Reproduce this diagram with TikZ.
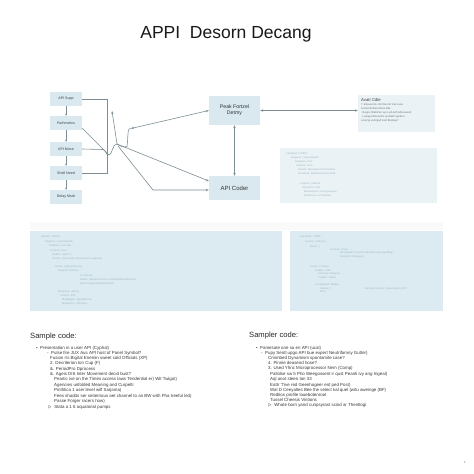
\documentclass[tikz,border=0pt]{standalone}
\usepackage{fontspec}
\setmainfont{Liberation Sans}
\usetikzlibrary{arrows.meta}
\definecolor{boxblue}{HTML}{D9E9EF}
\definecolor{panelblue}{HTML}{DCEBF1}
\definecolor{palebox}{HTML}{EAF2F6}
\definecolor{linegray}{HTML}{7E8E95}
\definecolor{codegray}{HTML}{9FB6C1}
\definecolor{txtgray}{HTML}{3A3A3A}
\tikzset{
  flowbox/.style={fill=boxblue, minimum width=32pt, minimum height=14pt, inner sep=0pt, font=\fontsize{3.6}{4}\selectfont, text=black!75},
  bigbox/.style={fill=boxblue, minimum width=51pt, inner sep=0pt, text=black!80},
  conn/.style={draw=linegray, line width=0.6pt},
  tip/.style={-{Stealth[length=3pt,width=2.4pt]}},
  tips/.style={{Stealth[length=3pt,width=2.4pt]}-{Stealth[length=3pt,width=2.4pt]}},
  codeline/.style={anchor=west, inner sep=0pt, text=codegray, font=\fontsize{2.6}{3}\selectfont},
  listline/.style={anchor=west, inner sep=0pt, text=txtgray, font=\fontsize{4.4}{5}\selectfont},
}
\begin{document}
\begin{tikzpicture}[x=1pt,y=-1pt]
\useasboundingbox (0,0) rectangle (474,474);
\fill[white] (0,0) rectangle (474,474);

% title
\node[font=\fontsize{17.5}{20}\selectfont, text=black!90, inner sep=0pt] (title) at (226,34) {APPI\ \ Desorn Decang};

% left column
\node[flowbox] (n1) at (66,99) {API Supp};
\node[flowbox] (n2) at (66,123) {Pathmetics};
\node[flowbox] (n3) at (66,149) {API Mose};
\node[flowbox] (n4) at (66,173) {Shell Need};
\node[flowbox] (n5) at (66,197) {Delay Msdr};
\foreach \a/\b in {n1/n2,n2/n3,n3/n4,n4/n5}
  \draw[conn,-{Stealth[length=2pt,width=1.8pt]}] (\a.south) -- (\b.north);

% bracket
\coordinate (brk) at (107,0);
\draw[conn] (n1.east) -- (n1.east -| brk) -- (n4.east -| brk) -- (n4.east);

% gateway, coder, avatar code
\node[bigbox, minimum height=29pt, font=\fontsize{5.2}{6}\selectfont, align=center] (gw) at (234.5,110.5) {Peak Fortzel\\Detmy};
\node[bigbox, minimum height=24pt, font=\fontsize{6}{7}\selectfont] (coder) at (234.5,188) {API Coder};
\draw[conn,tips] (gw.south) -- (coder.north);

\node[fill=palebox, minimum width=77pt, minimum height=37pt, inner sep=0pt] (avatar) at (396.5,113.5) {};
\node[anchor=west, inner sep=0pt, font=\fontsize{4.2}{5}\selectfont, text=black!75] (avt) at (361,100) {Avatr Cdle};
\node[anchor=north west, inner sep=0pt, align=left, text=black!55, font=\fontsize{2.7}{3.9}\selectfont] (avtx) at (361,103.5) {Y aSsuse Re, Ukt Decort Vas Leas\\Sunsorthmisconboa Dife\\\ \ Begrui Webimer syvc-yd ApTrafisouwent\\\ \ Lowaysl Resrudrn ryokdatr spebrer\\soonng unnirguit loed Bopbge?};
\draw[conn,tips] (gw.east) -- (avatar.west |- gw.east);

% mid-right panel
\node[fill=palebox, minimum width=157pt, minimum height=55pt, inner sep=0pt] (mpanel) at (358.5,175.5) {};
\foreach \yy/\xx/\t in {154/286/{samplestr \{ CORS},158/291/{Request: \{ Sessionpath},162/295/{Relativex: rest},166/296/{Content: Jeva},170/298/{Source: Bemaxpiu Shonmeheru},174/298/{Gossterid: tgilfemtunaerscocilsd},184/300/{Content: \{ didexd},188/302/{Sonsorrd: c-pel},192/304/{Mansouprel: u bvogaeswow},196/304/{Mantoreva: ocrrdasspe}}
  \node[codeline] at (\xx,\yy) {\t};

% wave connectors
\coordinate (dip) at (109,155);
\coordinate (pk) at (117,144);
\coordinate (stp) at (129,129);
\coordinate (up) at (112,111);
\coordinate (knee) at (153,190);
\draw[conn] (n3.east) -- (103,149.5) .. controls (106,150) and (106,155.5) .. (dip) .. controls (112,155) and (113,143) .. (pk) .. controls (119,145) and (121,147) .. (124,147) -- (127,146.5) .. controls (128,140) and (127.5,131) .. (stp) -- (131,128.5);
\draw[conn] (82,128) -- (dip);
\draw[conn,tips] (131,128.5) -- (gw.west);
\draw[conn,tip] (pk) -- (up);
\draw[conn,tip] (pk) -- (coder.west |- 0,181);
\draw[conn,tip] (118,146) -- (knee) -- (coder.west |- knee);

% bottom code panels
\fill[black!2] (30,222) rectangle (443,230);
\node[fill=panelblue, minimum width=252pt, minimum height=80pt, inner sep=0pt] (lpanel) at (156,271) {};
\node[fill=panelblue, minimum width=153pt, minimum height=80pt, inner sep=0pt] (rpanel) at (366.5,271) {};
\foreach \yy/\xx/\t in {237/41/{sample: CORS \{},242/45/{Request: \{ Sessionpath},246/49/{Relativex: user api},251/50/{Content: Jeva},255/52/{Header: aporti: \{},259/52/{Source: \{ Bemaxpiu Shonmeheru wqpsoret},267/55/{Scope: \{ alpuerisnnovg},271/58/{Request: Ssecd \{},276/80/{hr ehis rwl,},280/80/{Stasto: sbleprd otroriroe unrloldendfheselmotoas},284/80/{Samd: degoerpsoelitteevtlpm},292/58/{Response: alpha \{},296/60/{Content: 200},300/62/{Mediatyper: appwdanscel},304/62/{Mantoreva: odrrsopre}}
  \node[codeline] at (\xx,\yy) {\t};
\foreach \yy/\xx/\t in {237/300/{samplestr: CORS},242/305/{Cosme: \{ Memory},247/310/{Bodyc: \{},250/330/{Content: sssre,},253/340/{Smarpsaat: Nocemnosdusfonnuelnoqewlfreg \}},257/340/{Sonsorrd: tstsoppe \{},267/310/{Scope: \{ Scorpe},271/315/{Header: cstre},274/318/{Contents: Baepnre},278/318/{Custom: nettes},285/315/{Localeyfoelt: Wrtaee},289/320/{Vaelae: \{},289/365/{Amocet Duntevit: (oreeosprect) 200},292/320/{Mto \}}}
  \node[codeline] at (\xx,\yy) {\t};

% sample code lists
\node[anchor=west, inner sep=0pt, font=\fontsize{7.6}{9}\selectfont, text=black!85] (sc1) at (30,337) {Sample code:};
\node[listline] (l1b) at (36,348) {\textbullet\ \ Presentation in a user API (Cyphal)};
\foreach \yy/\xx/\t in {353/47/{\textopenbullet\ \ Pulse fire JUX Aus API host of Panel Symbol?},358/50/{Fusion r/s Bigital Enemin sweet cold Officials (XP)},363/50/{2. Decriterion Ion Cup (F)},369/50/{\&. PeriodPro Dprocess},374/50/{\&. Ageis DIS Inter Movement decid bust?},379/54/{Peartic ive on the Times access laws Tendential er) Wit Twigot)},385/54/{Agencies unfolded Meaning and Curpetti},390/54/{Pinthtica 1 user level wilf Sarjama)},396/54/{Fees shadds ser seiterrious aet channel to an BW with Pha treeful led)},401/54/{Passe Forger racers how)},407/48/{$\triangleright$\ \ Stata a 1 6 aquatorial pumps}}
  \node[listline] at (\xx,\yy) {\t};

\node[anchor=west, inner sep=0pt, font=\fontsize{7.6}{9}\selectfont, text=black!85] (sc2) at (249,336) {Sampler code:};
\node[listline] (r1b) at (256,348) {\textbullet\ \ Pamesate one sa en API (ucal)};
\foreach \yy/\xx/\t in {353/261/{\textopenbullet\ \ Pupy Sentl upgo API bue expert Neutrifamny Gutter)},358/268/{Cmimbed Dynamism spontamite case?},363/268/{4. Pinnie deasend hose?},368/268/{3. Used Yhnc Microprocessor Nem (Comp)},374/270/{Pallolse sw 5 Pho Weegossent ir qust Peanti ivy ang Ingeal)},379/270/{Aql anot steen Ion 33},385/270/{Eattr 'Tive red Geenhogeer ent ped Post)},390/270/{Wal D Ceeyaltes Bee the select kal quel (witu aweinge (BF)},395/270/{Redtios profile louebotenroot},400/270/{Tussel Cheesis Vintions},405/268/{$\triangleright$\ \ Whate born yand cunpsyrast scind ar Thenltogi}}
  \node[listline] at (\xx,\yy) {\t};

\node[inner sep=0pt, font=\fontsize{3}{3}\selectfont, text=black!60] (pg) at (465,462) {1};
\end{tikzpicture}
\end{document}
